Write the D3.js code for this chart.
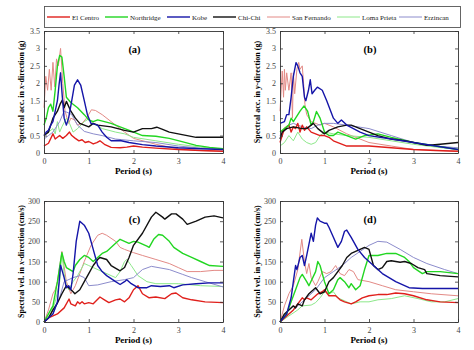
<!DOCTYPE html>
<html>
<head>
<meta charset="utf-8">
<script src="https://cdn.jsdelivr.net/npm/d3@7"></script>
<style>
  body { margin: 0; background: #fff; }
  svg { font-family: "Liberation Serif", "DejaVu Serif", serif; }
</style>
</head>
<body>
<svg id="chart" width="474" height="350"></svg>
<script>
// Records and colours
const records = ['El Centro', 'Northridge', 'Kobe', 'Chi-Chi', 'San Fernando', 'Loma Prieta', 'Erzincan'];
const colors = ['#e0201c', '#22d622', '#1515a8', '#111111', '#e38a86', '#8de88a', '#8c8ccc'];
const widths = [1.4, 1.4, 1.4, 1.4, 1.0, 1.0, 1.0];

const periodTicks = [0, 1, 2, 3, 4];
const accTicks = [0, 0.5, 1, 1.5, 2, 2.5, 3, 3.5];
const velTicks = [0, 50, 100, 150, 200, 250, 300];

// (a) spectral acceleration, x-direction  [period, g]
const accX_ElCentro = [[0,0.2],[0.1,0.28],[0.2,0.55],[0.25,0.4],[0.3,0.45],[0.35,0.5],[0.42,0.42],[0.5,0.5],[0.57,0.6],[0.62,0.5],[0.7,0.42],[0.78,0.35],[0.85,0.38],[0.92,0.3],[1.0,0.33],[1.1,0.26],[1.18,0.3],[1.25,0.35],[1.35,0.25],[1.5,0.16],[1.7,0.15],[1.85,0.17],[2.0,0.2],[2.2,0.17],[2.5,0.14],[3.0,0.1],[3.5,0.07],[4.0,0.05]];
const accX_Northridge = [[0,0.8],[0.05,1.0],[0.1,1.3],[0.15,1.4],[0.2,1.2],[0.25,1.8],[0.3,2.5],[0.35,2.8],[0.4,2.75],[0.45,2.2],[0.5,1.6],[0.6,1.45],[0.75,1.3],[0.9,1.1],[1.0,0.95],[1.1,0.9],[1.2,0.95],[1.35,0.9],[1.5,0.85],[1.7,0.75],[1.92,0.64],[2.2,0.5],[2.5,0.48],[2.8,0.42],[3.04,0.34],[3.4,0.22],[3.7,0.16],[4.0,0.12]];
const accX_Kobe = [[0,0.5],[0.05,0.6],[0.1,0.65],[0.15,0.8],[0.2,0.9],[0.25,1.2],[0.3,1.5],[0.34,2.0],[0.37,2.3],[0.41,1.6],[0.45,1.0],[0.5,0.8],[0.55,1.0],[0.62,1.5],[0.68,1.95],[0.75,2.1],[0.82,1.95],[0.9,1.5],[0.97,1.1],[1.05,0.85],[1.2,0.8],[1.3,0.6],[1.4,0.45],[1.5,0.35],[1.7,0.36],[1.9,0.3],[2.2,0.24],[2.5,0.2],[3.0,0.15],[3.5,0.12],[4.0,0.1]];
const accX_ChiChi = [[0,0.5],[0.1,0.6],[0.15,0.8],[0.2,1.0],[0.3,1.2],[0.36,1.4],[0.41,1.52],[0.45,1.3],[0.5,1.48],[0.6,1.2],[0.7,1.0],[0.8,0.85],[0.9,0.8],[1.0,0.75],[1.1,0.85],[1.2,0.8],[1.5,0.75],[1.8,0.65],[2.0,0.6],[2.2,0.7],[2.4,0.7],[2.52,0.74],[2.65,0.68],[2.8,0.6],[3.0,0.55],[3.2,0.5],[3.4,0.45],[4.0,0.45]];
const accX_SanFernando = [[0,1.3],[0.04,2.2],[0.08,1.8],[0.12,2.4],[0.16,1.8],[0.2,2.6],[0.24,1.9],[0.28,2.7],[0.32,2.5],[0.37,3.0],[0.42,2.0],[0.47,1.2],[0.55,0.85],[0.6,1.0],[0.68,0.95],[0.75,0.8],[0.85,0.85],[0.95,1.0],[1.06,1.24],[1.15,1.22],[1.3,1.1],[1.5,0.9],[1.8,0.6],[2.0,0.42],[2.5,0.25],[3.0,0.12],[3.5,0.07],[4.0,0.05]];
const accX_LomaPrieta = [[0,0.5],[0.1,0.6],[0.2,0.7],[0.25,0.55],[0.3,0.9],[0.35,0.6],[0.4,0.75],[0.5,1.0],[0.57,0.85],[0.65,0.6],[0.75,0.7],[0.9,0.9],[1.0,0.98],[1.1,0.85],[1.3,0.7],[1.6,0.6],[1.8,0.55],[2.0,0.45],[2.5,0.35],[3.0,0.25],[3.5,0.17],[4.0,0.1]];
const accX_Erzincan = [[0,0.4],[0.1,0.5],[0.2,0.6],[0.3,0.8],[0.35,0.9],[0.45,1.2],[0.55,1.15],[0.62,1.1],[0.75,0.8],[0.9,0.62],[1.1,0.55],[1.3,0.5],[1.6,0.4],[2.0,0.35],[2.5,0.3],[3.0,0.2],[3.5,0.14],[4.0,0.1]];

// (b) spectral acceleration, y-direction
const accY_ElCentro = [[0,0.3],[0.05,0.5],[0.1,0.7],[0.2,0.8],[0.25,0.6],[0.3,0.75],[0.35,0.7],[0.4,0.85],[0.45,0.6],[0.5,0.8],[0.55,0.65],[0.6,0.75],[0.7,0.6],[0.8,0.55],[0.9,0.5],[1.0,0.5],[1.1,0.45],[1.2,0.35],[1.3,0.3],[1.5,0.2],[1.8,0.2],[2.0,0.2],[2.5,0.15],[3.0,0.1],[3.5,0.07],[4.0,0.05]];
const accY_Northridge = [[0,0.6],[0.1,0.7],[0.2,0.8],[0.25,1.0],[0.3,0.9],[0.35,1.0],[0.45,1.2],[0.54,1.35],[0.62,1.2],[0.7,0.8],[0.75,0.9],[0.82,1.19],[0.9,1.0],[1.0,0.6],[1.1,0.5],[1.2,0.5],[1.3,0.6],[1.5,0.5],[1.7,0.4],[1.9,0.5],[2.2,0.55],[2.5,0.45],[3.0,0.3],[3.5,0.2],[4.0,0.1]];
const accY_Kobe = [[0,0.85],[0.1,0.9],[0.15,1.1],[0.2,1.1],[0.25,1.6],[0.3,2.2],[0.36,2.59],[0.4,2.5],[0.45,2.3],[0.5,2.2],[0.55,1.6],[0.58,1.5],[0.64,1.8],[0.68,2.1],[0.72,1.7],[0.78,1.8],[0.84,1.89],[0.95,1.8],[1.05,1.5],[1.2,1.0],[1.3,0.85],[1.38,0.95],[1.5,0.8],[1.8,0.6],[2.0,0.5],[2.5,0.4],[3.0,0.3],[3.5,0.2],[4.0,0.1]];
const accY_ChiChi = [[0,0.4],[0.05,0.6],[0.15,0.7],[0.3,0.75],[0.5,0.7],[0.6,0.7],[0.75,0.85],[0.85,0.7],[0.95,0.6],[1.0,0.55],[1.1,0.65],[1.3,0.75],[1.5,0.8],[1.6,0.8],[1.8,0.7],[2.0,0.6],[2.2,0.5],[2.5,0.4],[2.8,0.35],[3.0,0.3],[3.3,0.22],[3.6,0.25],[4.0,0.3]];
const accY_SanFernando = [[0,1.2],[0.05,2.35],[0.08,1.6],[0.1,2.4],[0.12,1.8],[0.15,2.3],[0.2,1.8],[0.25,2.3],[0.28,1.0],[0.3,2.3],[0.33,1.7],[0.38,2.4],[0.42,2.6],[0.45,2.4],[0.5,2.5],[0.53,2.0],[0.56,1.4],[0.6,1.1],[0.7,0.9],[0.9,0.8],[1.0,0.85],[1.2,0.75],[1.5,0.55],[1.8,0.4],[2.0,0.3],[2.5,0.2],[3.0,0.1],[4.0,0.05]];
const accY_LomaPrieta = [[0,0.2],[0.1,0.3],[0.2,0.5],[0.3,0.35],[0.4,0.6],[0.5,0.4],[0.6,0.3],[0.7,0.25],[0.8,0.3],[0.9,0.5],[1.0,0.6],[1.2,0.55],[1.5,0.5],[2.0,0.45],[2.5,0.35],[3.0,0.25],[3.5,0.17],[4.0,0.1]];
const accY_Erzincan = [[0,0.5],[0.2,0.8],[0.3,0.85],[0.5,0.75],[0.7,0.7],[0.85,0.8],[1.0,0.85],[1.2,0.85],[1.5,0.8],[2.0,0.7],[2.5,0.5],[3.0,0.3],[3.5,0.2],[4.0,0.15]];

// (c) spectral velocity, x-direction  [period, cm/s]
const velX_ElCentro = [[0,0],[0.1,10],[0.2,15],[0.3,20],[0.45,35],[0.56,57],[0.6,45],[0.7,40],[0.75,50],[0.8,45],[0.85,50],[0.9,45],[1.0,48],[1.1,45],[1.25,62],[1.35,55],[1.45,48],[1.6,55],[1.7,57],[1.8,50],[1.9,60],[2.0,80],[2.1,90],[2.2,70],[2.35,60],[2.5,62],[2.7,58],[2.85,70],[2.95,72],[3.1,60],[3.3,55],[3.6,50],[4.0,48]];
const velX_Northridge = [[0,0],[0.1,20],[0.2,40],[0.3,100],[0.4,172],[0.45,150],[0.5,135],[0.65,125],[0.7,140],[0.8,155],[0.9,165],[1.0,160],[1.1,150],[1.2,160],[1.3,170],[1.4,175],[1.6,195],[1.7,205],[1.8,200],[1.9,195],[2.0,200],[2.1,198],[2.3,188],[2.35,185],[2.45,205],[2.56,217],[2.65,215],[2.8,200],[2.9,185],[3.1,170],[3.3,160],[3.5,150],[3.7,140],[4.0,138]];
const velX_Kobe = [[0,0],[0.1,10],[0.2,20],[0.3,50],[0.37,141],[0.45,110],[0.5,85],[0.55,90],[0.6,80],[0.65,120],[0.72,200],[0.8,250],[0.9,240],[1.0,220],[1.1,180],[1.2,140],[1.3,125],[1.4,115],[1.6,100],[1.7,93],[1.8,100],[1.85,105],[1.95,95],[2.1,85],[2.3,85],[2.4,90],[2.6,88],[2.8,90],[2.9,85],[3.1,92],[3.4,95],[3.7,97],[4.0,97]];
const velX_ChiChi = [[0,0],[0.1,10],[0.2,30],[0.3,47],[0.4,70],[0.5,90],[0.55,85],[0.65,75],[0.69,70],[0.8,80],[0.9,100],[1.0,120],[1.1,140],[1.2,155],[1.25,160],[1.4,155],[1.5,140],[1.7,127],[1.8,135],[1.9,160],[2.0,190],[2.2,220],[2.4,260],[2.5,272],[2.65,260],[2.7,255],[2.85,268],[2.95,268],[3.1,255],[3.2,242],[3.4,250],[3.6,260],[3.8,263],[4.0,258]];
const velX_SanFernando = [[0,0],[0.1,30],[0.2,70],[0.25,80],[0.3,100],[0.4,175],[0.5,100],[0.6,70],[0.7,90],[0.8,120],[0.9,150],[1.05,190],[1.2,215],[1.3,220],[1.4,215],[1.6,200],[1.7,185],[1.8,180],[2.0,172],[2.2,165],[2.5,155],[2.8,145],[3.0,135],[3.2,125],[3.5,125],[3.8,128],[4.0,128]];
const velX_LomaPrieta = [[0,0],[0.15,20],[0.25,50],[0.35,100],[0.4,170],[0.45,120],[0.5,90],[0.55,80],[0.65,100],[0.75,115],[0.85,135],[0.9,145],[1.0,140],[1.1,135],[1.3,125],[1.5,115],[1.6,110],[1.7,125],[1.8,150],[1.85,155],[1.95,140],[2.1,115],[2.3,100],[2.5,95],[3.0,95],[3.5,90],[4.0,88]];
const velX_Erzincan = [[0,0],[0.2,20],[0.35,60],[0.45,100],[0.65,110],[0.8,115],[0.9,110],[1.0,90],[1.2,92],[1.5,100],[1.8,105],[2.0,110],[2.2,130],[2.4,138],[2.8,130],[3.1,118],[3.3,110],[3.6,100],[4.0,87]];

// (d) spectral velocity, y-direction
const velY_ElCentro = [[0,0],[0.15,15],[0.3,30],[0.4,45],[0.5,60],[0.55,55],[0.6,60],[0.7,55],[0.8,65],[0.85,70],[0.95,75],[1.0,80],[1.1,65],[1.25,65],[1.35,55],[1.45,50],[1.6,45],[1.7,50],[1.85,60],[2.0,65],[2.2,68],[2.4,68],[2.6,72],[2.8,70],[3.0,65],[3.3,55],[3.6,50],[4.0,48]];
const velY_Northridge = [[0,0],[0.15,20],[0.25,50],[0.35,80],[0.45,110],[0.5,118],[0.6,100],[0.65,90],[0.8,125],[0.85,150],[0.9,140],[1.0,100],[1.1,70],[1.2,80],[1.3,105],[1.35,110],[1.45,100],[1.55,85],[1.6,95],[1.7,80],[1.8,90],[1.9,130],[2.0,165],[2.2,165],[2.4,170],[2.6,170],[2.8,160],[2.9,150],[3.0,135],[3.2,120],[3.3,125],[3.6,125],[4.0,120]];
const velY_Kobe = [[0,0],[0.15,20],[0.25,60],[0.3,100],[0.35,140],[0.38,130],[0.45,160],[0.5,165],[0.55,140],[0.6,165],[0.7,220],[0.75,200],[0.8,240],[0.84,258],[0.9,250],[1.0,245],[1.05,245],[1.1,235],[1.2,210],[1.3,185],[1.38,200],[1.45,225],[1.5,228],[1.6,210],[1.75,180],[1.9,160],[2.1,140],[2.3,120],[2.6,100],[2.9,85],[3.2,83],[4.0,83]];
const velY_ChiChi = [[0,0],[0.1,20],[0.2,30],[0.3,40],[0.35,35],[0.4,45],[0.5,40],[0.55,55],[0.65,70],[0.8,85],[0.9,70],[1.0,75],[1.1,100],[1.2,110],[1.4,140],[1.5,160],[1.6,170],[1.8,180],[1.9,185],[2.0,180],[2.1,140],[2.2,130],[2.3,135],[2.4,150],[2.5,152],[2.7,148],[2.8,150],[2.95,145],[3.1,135],[3.25,130],[3.3,120],[3.6,115],[4.0,112]];
const velY_SanFernando = [[0,0],[0.1,40],[0.15,55],[0.2,70],[0.3,90],[0.4,130],[0.49,205],[0.55,150],[0.6,120],[0.65,145],[0.7,110],[0.8,90],[0.85,100],[0.95,125],[1.05,120],[1.15,125],[1.25,140],[1.35,120],[1.45,115],[1.55,130],[1.65,125],[1.75,105],[2.0,100],[2.3,90],[2.6,80],[3.0,75],[3.4,70],[4.0,65]];
const velY_LomaPrieta = [[0,0],[0.2,15],[0.4,30],[0.5,40],[0.7,42],[0.8,48],[0.9,60],[1.0,75],[1.1,70],[1.2,75],[1.3,60],[1.5,50],[1.6,45],[1.8,50],[2.0,50],[2.2,55],[2.5,58],[2.8,65],[3.1,58],[3.4,50],[3.7,50],[4.0,58]];
const velY_Erzincan = [[0,0],[0.2,20],[0.4,40],[0.6,60],[0.8,80],[1.0,110],[1.2,125],[1.4,140],[1.6,160],[1.8,175],[2.0,190],[2.2,200],[2.4,198],[2.7,180],[3.0,160],[3.3,145],[3.7,130],[4.0,120]];

const panels = [
  { tag: '(a)', dir: 'x', kind: 'acc', x0: 44, x1: 223, y0: 31, y1: 153, max: 3.5, ticks: accTicks,
    series: [accX_ElCentro, accX_Northridge, accX_Kobe, accX_ChiChi, accX_SanFernando, accX_LomaPrieta, accX_Erzincan] },
  { tag: '(b)', dir: 'y', kind: 'acc', x0: 280, x1: 458, y0: 31, y1: 153, max: 3.5, ticks: accTicks,
    series: [accY_ElCentro, accY_Northridge, accY_Kobe, accY_ChiChi, accY_SanFernando, accY_LomaPrieta, accY_Erzincan] },
  { tag: '(c)', dir: 'x', kind: 'vel', x0: 44, x1: 223, y0: 201, y1: 322, max: 300, ticks: velTicks,
    series: [velX_ElCentro, velX_Northridge, velX_Kobe, velX_ChiChi, velX_SanFernando, velX_LomaPrieta, velX_Erzincan] },
  { tag: '(d)', dir: 'y', kind: 'vel', x0: 280, x1: 458, y0: 201, y1: 322, max: 300, ticks: velTicks,
    series: [velY_ElCentro, velY_Northridge, velY_Kobe, velY_ChiChi, velY_SanFernando, velY_LomaPrieta, velY_Erzincan] }
];

const svg = d3.select('#chart');

// draw order: light ones underneath
const order = [4, 5, 6, 0, 1, 3, 2];

panels.forEach(p => {
  const x = d3.scaleLinear().domain([0, 4]).range([p.x0, p.x1]);
  const y = d3.scaleLinear().domain([0, p.max]).range([p.y1, p.y0]);
  const g = svg.append('g');

  const line = d3.line().x(d => x(d[0])).y(d => y(d[1]));
  order.forEach(i => {
    g.append('path')
      .attr('d', line(p.series[i]))
      .attr('fill', 'none')
      .attr('stroke', colors[i])
      .attr('stroke-width', widths[i])
      .attr('stroke-linejoin', 'round');
  });

  // box with inward ticks
  const axisColor = '#333';
  g.append('g').attr('transform', `translate(0,${p.y1})`)
    .call(d3.axisBottom(x).tickValues(periodTicks).tickSizeInner(-3).tickSizeOuter(0).tickPadding(5).tickFormat(d3.format('d')));
  g.append('g').attr('transform', `translate(0,${p.y0})`)
    .call(d3.axisTop(x).tickValues(periodTicks).tickSizeInner(-3).tickSizeOuter(0).tickFormat(''));
  g.append('g').attr('transform', `translate(${p.x0},0)`)
    .call(d3.axisLeft(y).tickValues(p.ticks).tickSizeInner(-3).tickSizeOuter(0).tickPadding(4).tickFormat(d => d));
  g.append('g').attr('transform', `translate(${p.x1},0)`)
    .call(d3.axisRight(y).tickValues(p.ticks).tickSizeInner(-3).tickSizeOuter(0).tickFormat(''));
  g.selectAll('.domain').attr('stroke', axisColor).attr('stroke-width', 0.9);
  g.selectAll('.tick line').attr('stroke', axisColor).attr('stroke-width', 0.8);
  g.selectAll('.tick text').attr('fill', '#444').style('font-size', '8px')
    .style('font-family', '"Liberation Serif", serif');

  g.append('text')
    .attr('x', (p.x0 + p.x1) / 2 + 1).attr('y', p.y0 + 22)
    .attr('text-anchor', 'middle')
    .style('font-weight', 'bold').style('font-size', '10.5px')
    .text(p.tag);

  g.append('text')
    .attr('x', (p.x0 + p.x1) / 2).attr('y', p.y1 + 21)
    .attr('text-anchor', 'middle')
    .style('font-weight', 'bold').style('font-size', '9px')
    .text('Period (s)');

  const ylab = g.append('text')
    .attr('transform', `translate(${p.x0 - 20},${(p.y0 + p.y1) / 2}) rotate(-90)`)
    .attr('text-anchor', 'middle')
    .style('font-weight', 'bold').style('font-size', '8px');
  ylab.append('tspan').text(p.kind === 'acc' ? 'Spectral acc. in ' : 'Spectral vel. in ');
  ylab.append('tspan').style('font-style', 'italic').text(p.dir);
  ylab.append('tspan').text(p.kind === 'acc' ? '-direction (g)' : '-direction (cm/s)');
});

// legend
const legend = svg.append('g');
legend.append('rect').attr('x', 44.5).attr('y', 6.5).attr('width', 416).attr('height', 21)
  .attr('fill', '#fff').attr('stroke', '#555').attr('stroke-width', 0.9);
const legendX = [47, 105, 167, 213, 267, 337, 399];
records.forEach((r, i) => {
  legend.append('line')
    .attr('x1', legendX[i]).attr('x2', legendX[i] + 23)
    .attr('y1', 17).attr('y2', 17)
    .attr('stroke', colors[i]).attr('stroke-width', widths[i]);
  legend.append('text')
    .attr('x', legendX[i] + 25).attr('y', 19.5)
    .style('font-size', '7px').attr('fill', '#222')
    .text(r);
});
</script>
</body>
</html>
